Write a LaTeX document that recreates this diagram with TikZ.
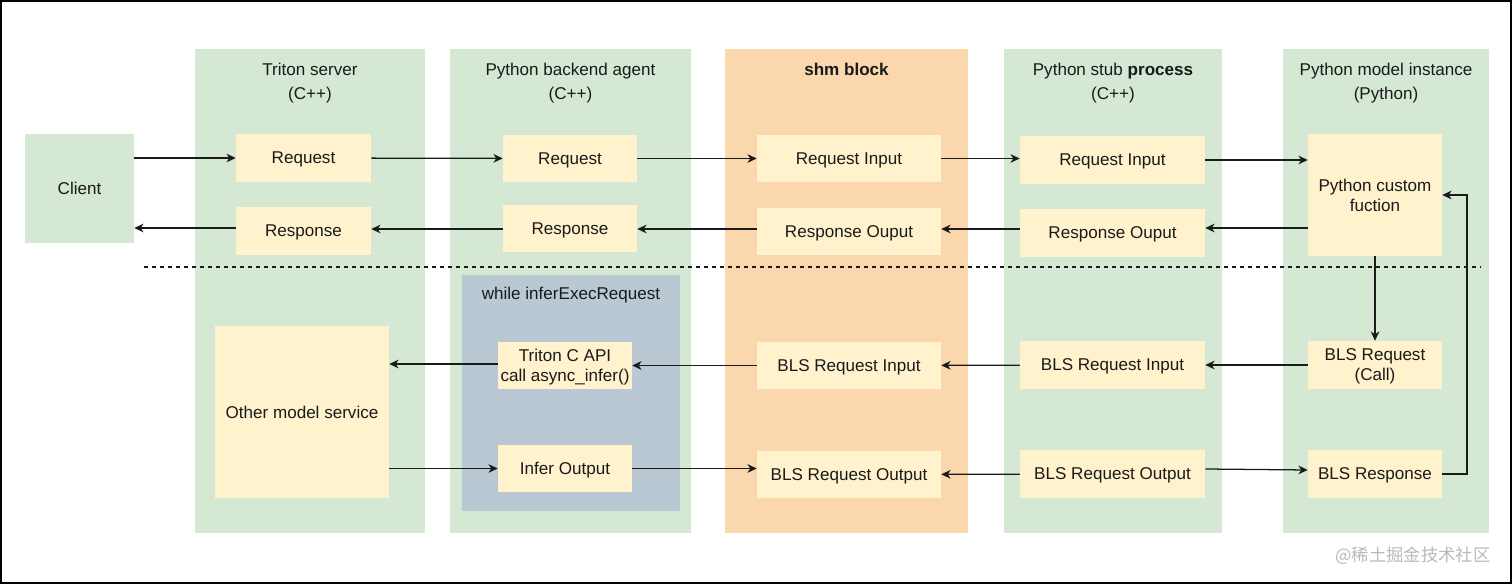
\documentclass[tikz,border=0pt]{standalone}
\usepackage{fontspec}
\setmainfont{Liberation Sans}
\newfontfamily\cjkfont{Noto Sans CJK SC}
\usetikzlibrary{arrows.meta}
\definecolor{lanegreen}{RGB}{213, 232, 212}
\definecolor{shmorange}{RGB}{250, 215, 172}
\definecolor{cellyellow}{RGB}{255, 242, 204}
\definecolor{loopblue}{RGB}{186, 200, 211}
\definecolor{inkgray}{RGB}{26, 26, 26}

\begin{document}
\begin{tikzpicture}[x=0.75pt, y=-0.75pt,
    cell/.style 2 args={fill=cellyellow, text=inkgray, align=center, inner sep=0pt,
        minimum width=#1*0.75pt, minimum height=#2*0.75pt, text depth=0pt,
        font=\fontsize{12.8pt}{15pt}\selectfont},
    lanetitle/.style={text=inkgray, align=center, font=\fontsize{12.8pt}{18pt}\selectfont},
    flow/.style={-{Stealth[length=7pt, width=6.5pt, inset=2.2pt]}, line width=0.95pt, inkgray}]
    \useasboundingbox (0,0) rectangle (1512,584);
    \draw[line width=1.2pt] (1,1) rectangle (1511,583);

    % Draw the lanes
    \fill[lanegreen] (195,49) rectangle (425,533);
    \fill[lanegreen] (450,49) rectangle (691,533);
    \fill[shmorange] (725,49) rectangle (968,533);
    \fill[lanegreen] (1004,49) rectangle (1222,533);
    \fill[lanegreen] (1283,49) rectangle (1489,533);
    \fill[loopblue] (462,275) rectangle (680,511);

    % Lane titles
    \node[lanetitle] (ttitle) at (310,83) {Triton server\\(C++)};
    \node[lanetitle] (atitle) at (570.5,83) {Python backend agent\\(C++)};
    \node[lanetitle, font=\fontsize{12.8pt}{18pt}\selectfont\bfseries] (stitle) at (846.5,69) {shm block};
    \node[lanetitle] (ptitle) at (1113,83) {Python stub \textbf{process}\\(C++)};
    \node[lanetitle] (mtitle) at (1386,83) {Python model instance\\(Python)};
    \node[lanetitle] (ltitle) at (571,295) {while inferExecRequest};

    % Request / response path
    \node[cell={109}{109}, fill=lanegreen] (client) at (79.5,188.5) {Client};
    \node[cell={135}{48}] (treq) at (303.5,158) {Request};
    \node[cell={135}{48}] (tresp) at (303.5,231) {Response};
    \node[cell={134}{47}] (areq) at (570,158.5) {Request};
    \node[cell={134}{47}] (aresp) at (570,228.5) {Response};
    \node[cell={184}{47}] (sreqin) at (849,158.5) {Request Input};
    \node[cell={184}{47}] (sresp) at (849,231.5) {Response Ouput};
    \node[cell={185}{48}] (preqin) at (1112.5,160) {Request Input};
    \node[cell={185}{48}] (presp) at (1112.5,233) {Response Ouput};
    \node[cell={134}{122}] (custom) at (1375,195) {Python custom\\fuction};

    % BLS path
    \node[cell={174}{172}] (other) at (302,412) {Other model service};
    \node[cell={134}{47}] (capi) at (565,365.5) {Triton C API\\call async\_infer()};
    \node[cell={134}{47}] (inferout) at (565,468.5) {Infer Output};
    \node[cell={184}{47}] (sblsin) at (849,365.5) {BLS Request Input};
    \node[cell={184}{47}] (sblsout) at (849,474.5) {BLS Request Output};
    \node[cell={185}{48}] (pblsin) at (1112.5,365) {BLS Request Input};
    \node[cell={185}{48}] (pblsout) at (1112.5,474) {BLS Request Output};
    \node[cell={134}{48}] (blscall) at (1375,365) {BLS Request\\(Call)};
    \node[cell={134}{48}] (blsresp) at (1375,474) {BLS Response};
    \coordinate (loop) at (1467,474);

    % Separator
    \draw[inkgray, line width=0.9pt, dash pattern=on 3pt off 3pt] (144,267) -- (1481,267);

    % Arrows, upper half
    \draw[flow] (client.east |- treq.west) -- (treq.west);
    \draw[flow] (treq) -- (areq);
    \draw[flow] (areq) -- (sreqin);
    \draw[flow] (sreqin.east) -- (sreqin.east -| preqin.west);
    \draw[flow] (preqin.east) -- (preqin.east -| custom.west);
    \draw[flow] (custom.west |- 0,228) -- (presp.east |- 0,228);
    \draw[flow] (presp.west |- 0,229) -- (sresp.east |- 0,229);
    \draw[flow] (sresp.west |- 0,229) -- (aresp.east |- 0,229);
    \draw[flow] (aresp.west |- 0,229) -- (tresp.east |- 0,229);
    \draw[flow] (tresp.west |- 0,228) -- (client.east |- 0,228);

    % Arrows, lower half
    \draw[flow] (custom) -- (blscall);
    \draw[flow] (blscall) -- (pblsin);
    \draw[flow] (pblsin) -- (sblsin);
    \draw[flow] (sblsin) -- (capi);
    \draw[flow] (capi.west |- 0,364) -- (other.east |- 0,364);
    \draw[flow] (other.east |- inferout.west) -- (inferout.west);
    \draw[flow] (inferout.east) -- (inferout.east -| sblsout.west);
    \draw[flow] (pblsout) -- (sblsout);
    \draw[flow] (pblsout.east |- 0,469) -- (blsresp.west |- 0,470);
    \draw[flow] (blsresp.east) -- (loop) |- (custom.east);

    % Watermark
    \node[text=gray!55, font=\cjkfont\fontsize{13pt}{15pt}\selectfont] (mark) at (1413,556) {@稀土掘金技术社区};
\end{tikzpicture}
\end{document}
